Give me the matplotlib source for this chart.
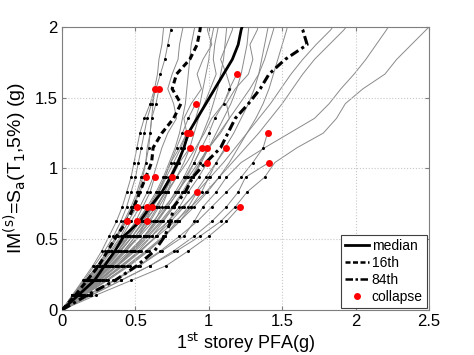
"""
IDA curves: 1st storey PFA against IM, with median / 16th / 84th and collapse points.
"""

import matplotlib
matplotlib.use("Agg")
import matplotlib.pyplot as plt
from matplotlib.lines import Line2D

plt.rcParams["font.family"] = ["Liberation Sans", "DejaVu Sans"]

# IM levels of the stripes (g)
IM_LEVELS = [0, 0.104, 0.208, 0.313, 0.417, 0.521, 0.625, 0.729, 0.833, 0.938,
             1.042, 1.146, 1.25, 1.354, 1.458, 1.563, 1.667, 1.771, 1.875, 1.979, 2.083]

# records ending in collapse: PFA (g) at successive IM levels, last point = collapse
COLLAPSE_RECORDS = [
    [0, 0.07, 0.16, 0.24, 0.31, 0.37, 0.44],
    [0, 0.09, 0.19, 0.28, 0.36, 0.45, 0.51],
    [0, 0.10, 0.22, 0.33, 0.42, 0.50, 0.58],
    [0, 0.08, 0.17, 0.25, 0.33, 0.40, 0.45, 0.51],
    [0, 0.09, 0.20, 0.29, 0.38, 0.45, 0.52, 0.58],
    [0, 0.11, 0.23, 0.34, 0.44, 0.52, 0.57, 0.61],
    [0, 0.23, 0.47, 0.71, 0.86, 1.00, 1.12, 1.21],
    [0, 0.14, 0.30, 0.45, 0.58, 0.70, 0.78, 0.86, 0.92],
    [0, 0.08, 0.17, 0.25, 0.32, 0.38, 0.43, 0.48, 0.53, 0.57],
    [0, 0.09, 0.19, 0.28, 0.36, 0.43, 0.50, 0.55, 0.60, 0.63],
    [0, 0.12, 0.25, 0.37, 0.47, 0.56, 0.63, 0.68, 0.72, 0.75],
    [0, 0.13, 0.28, 0.42, 0.54, 0.64, 0.72, 0.80, 0.86, 0.93, 0.99],
    [0, 0.20, 0.40, 0.60, 0.76, 0.90, 1.02, 1.12, 1.20, 1.25, 1.41],
    [0, 0.17, 0.35, 0.52, 0.67, 0.80, 0.92, 1.02, 1.12, 1.22, 1.30, 1.37, 1.40],
    [0, 0.10, 0.21, 0.32, 0.42, 0.50, 0.57, 0.64, 0.70, 0.75, 0.80, 0.87],
    [0, 0.12, 0.25, 0.37, 0.47, 0.56, 0.64, 0.72, 0.79, 0.84, 0.90, 0.95],
    [0, 0.14, 0.28, 0.41, 0.52, 0.61, 0.69, 0.76, 0.83, 0.89, 0.94, 0.99],
    [0, 0.15, 0.31, 0.46, 0.59, 0.70, 0.80, 0.88, 0.95, 1.00, 1.05, 1.12],
    [0, 0.09, 0.19, 0.29, 0.38, 0.46, 0.53, 0.60, 0.66, 0.71, 0.76, 0.81, 0.85],
    [0, 0.11, 0.23, 0.34, 0.43, 0.52, 0.59, 0.65, 0.70, 0.74, 0.78, 0.83, 0.87],
    [0, 0.10, 0.21, 0.31, 0.40, 0.48, 0.55, 0.61, 0.66, 0.70, 0.74, 0.78, 0.82, 0.86, 0.91],
    [0, 0.07, 0.14, 0.21, 0.27, 0.32, 0.37, 0.41, 0.44, 0.47, 0.49, 0.51, 0.53, 0.56, 0.60, 0.63],
    [0, 0.08, 0.16, 0.24, 0.31, 0.37, 0.42, 0.47, 0.51, 0.54, 0.57, 0.59, 0.60, 0.61, 0.64, 0.66],
    [0, 0.12, 0.25, 0.37, 0.48, 0.57, 0.65, 0.72, 0.79, 0.85, 0.90, 0.95, 1.00, 1.04, 1.10, 1.14, 1.19],
]

# records without collapse up to the top of the plot
SURVIVOR_RECORDS = [
    [0, 0.07, 0.15, 0.22, 0.29, 0.35, 0.40, 0.44, 0.47, 0.50, 0.52, 0.54, 0.56, 0.58, 0.61, 0.64, 0.67, 0.70, 0.72, 0.74, 0.76],
    [0, 0.08, 0.16, 0.24, 0.31, 0.37, 0.43, 0.48, 0.52, 0.55, 0.57, 0.58, 0.60, 0.61, 0.62, 0.63, 0.65, 0.66, 0.68, 0.69, 0.70],
    [0, 0.08, 0.17, 0.26, 0.34, 0.41, 0.47, 0.53, 0.58, 0.62, 0.65, 0.68, 0.72, 0.78, 0.76, 0.72, 0.75, 0.79, 0.80, 0.82, 0.84],
    [0, 0.09, 0.18, 0.27, 0.36, 0.44, 0.51, 0.58, 0.64, 0.69, 0.73, 0.77, 0.80, 0.82, 0.84, 0.85, 0.86, 0.87, 0.88, 0.90, 0.92],
    [0, 0.09, 0.19, 0.29, 0.38, 0.46, 0.53, 0.59, 0.65, 0.70, 0.74, 0.80, 0.85, 0.83, 0.88, 0.95, 0.92, 0.96, 1.02, 0.99, 1.01],
    [0, 0.10, 0.21, 0.31, 0.40, 0.48, 0.55, 0.62, 0.68, 0.73, 0.78, 0.83, 0.87, 0.91, 0.94, 0.96, 0.98, 1.00, 1.01, 1.03, 1.05],
    [0, 0.11, 0.22, 0.33, 0.43, 0.52, 0.60, 0.66, 0.72, 0.78, 0.83, 0.87, 0.90, 0.93, 0.97, 1.01, 1.05, 1.03, 1.04, 1.06, 1.08],
    [0, 0.12, 0.24, 0.35, 0.46, 0.56, 0.64, 0.71, 0.77, 0.83, 0.88, 0.92, 0.96, 1.00, 1.03, 1.06, 1.08, 1.10, 1.11, 1.12, 1.13],
    [0, 0.10, 0.20, 0.30, 0.39, 0.48, 0.56, 0.64, 0.71, 0.78, 0.85, 0.91, 0.97, 1.02, 1.10, 1.15, 1.12, 1.08, 1.12, 1.16, 1.17],
    [0, 0.13, 0.26, 0.38, 0.49, 0.59, 0.68, 0.76, 0.83, 0.89, 0.95, 1.00, 1.05, 1.10, 1.15, 1.19, 1.22, 1.24, 1.26, 1.27, 1.28],
    [0, 0.12, 0.25, 0.37, 0.48, 0.58, 0.67, 0.75, 0.82, 0.88, 0.94, 1.00, 1.08, 1.14, 1.12, 1.18, 1.27, 1.30, 1.28, 1.33, 1.35],
    [0, 0.14, 0.28, 0.41, 0.53, 0.64, 0.74, 0.83, 0.91, 0.98, 1.05, 1.11, 1.17, 1.22, 1.27, 1.31, 1.34, 1.36, 1.38, 1.40, 1.42],
    [0, 0.11, 0.22, 0.33, 0.43, 0.53, 0.62, 0.70, 0.78, 0.86, 0.93, 1.00, 1.07, 1.14, 1.21, 1.28, 1.34, 1.38, 1.41, 1.44, 1.46],
    [0, 0.15, 0.30, 0.44, 0.57, 0.69, 0.80, 0.90, 0.99, 1.07, 1.14, 1.20, 1.26, 1.32, 1.37, 1.41, 1.44, 1.47, 1.50, 1.53, 1.55],
    [0, 0.12, 0.25, 0.38, 0.50, 0.61, 0.72, 0.82, 0.92, 1.01, 1.10, 1.18, 1.26, 1.34, 1.42, 1.49, 1.56, 1.64, 1.73, 1.83, 1.90],
    [0, 0.13, 0.27, 0.40, 0.53, 0.65, 0.77, 0.88, 0.98, 1.07, 1.16, 1.25, 1.34, 1.42, 1.50, 1.57, 1.64, 1.72, 1.82, 1.92, 2.00],
    [0, 0.18, 0.36, 0.53, 0.68, 0.83, 0.90, 0.96, 1.05, 1.12, 1.22, 1.38, 1.55, 1.72, 1.82, 1.90, 1.99, 2.07, 2.14, 2.21, 2.27],
    [0, 0.20, 0.40, 0.60, 0.78, 0.94, 1.08, 1.18, 1.26, 1.38, 1.45, 1.60, 1.78, 1.87, 1.93, 2.05, 2.20, 2.28, 2.38, 2.48, 2.58],
]

MEDIAN_PFA = [0, 0.11, 0.22, 0.29, 0.36, 0.42, 0.53, 0.60, 0.68, 0.74, 0.79,
              0.83, 0.86, 0.92, 0.98, 1.04, 1.10, 1.16, 1.20, 1.22, 1.25]
P16_PFA = [0, 0.09, 0.17, 0.25, 0.31, 0.37, 0.44, 0.49, 0.53, 0.57, 0.61,
           0.62, 0.68, 0.76, 0.81, 0.75, 0.78, 0.87, 0.92, 0.94, 0.95]
P84_PFA = [0, 0.17, 0.36, 0.51, 0.63, 0.70, 0.74, 0.76, 0.84, 0.89, 0.98,
           1.08, 1.13, 1.18, 1.27, 1.35, 1.41, 1.52, 1.67, 1.64, 1.58]

GRAY = "#7f7f7f"
LINE_GRAY = "#8a8a8a"

fig = plt.figure(figsize=(4.74, 3.55), dpi=100)
ax = fig.add_axes([0.131, 0.127, 0.774, 0.797])

for rec in SURVIVOR_RECORDS:
    im = IM_LEVELS[:len(rec)]
    ax.plot(rec, im, color=LINE_GRAY, linewidth=0.7, zorder=1)
for i, rec in enumerate(SURVIVOR_RECORDS):
    n = len(rec) if i == 0 else 10
    ax.plot(rec[1:n], IM_LEVELS[1:n], "o", color="black", markersize=2.2,
            markeredgewidth=0, zorder=2)

for rec in COLLAPSE_RECORDS:
    im = IM_LEVELS[:len(rec)]
    ax.plot(rec, im, color=LINE_GRAY, linewidth=0.7, zorder=1)
    ax.plot(rec[1:-1], im[1:-1], "o", color="black", markersize=2.2,
            markeredgewidth=0, zorder=2)

ax.plot(MEDIAN_PFA, IM_LEVELS, color="black", linewidth=2.0, zorder=4)
ax.plot(P16_PFA, IM_LEVELS, color="black", linewidth=2.2,
        linestyle=(0, (2.0, 1.2)), zorder=4)
ax.plot(P84_PFA, IM_LEVELS, color="black", linewidth=2.2,
        linestyle=(0, (3.0, 1.2, 1.0, 1.2)), zorder=4)

ax.plot([r[-1] for r in COLLAPSE_RECORDS],
        [IM_LEVELS[len(r) - 1] for r in COLLAPSE_RECORDS],
        "o", color="#ff0000", markersize=5, markeredgewidth=0, zorder=5)

ax.set_xlim(0, 2.5)
ax.set_ylim(0, 2)
ax.set_xticks([0, 0.5, 1, 1.5, 2, 2.5])
ax.set_xticklabels(["0", "0.5", "1", "1.5", "2", "2.5"])
ax.set_yticks([0, 0.5, 1, 1.5, 2])
ax.set_yticklabels(["0", "0.5", "1", "1.5", "2"])
ax.tick_params(direction="in", length=3, labelsize=12, top=True, right=True,
               color=GRAY, pad=3)
ax.grid(True, linestyle=":", color="#c8c8c8", linewidth=0.8)
for sp in ax.spines.values():
    sp.set_color(GRAY)

ax.set_xlabel("1$^{\\rm st}$ storey PFA(g)", fontsize=13, labelpad=1)
ax.set_ylabel("IM$^{\\rm (s)}$=S$_{\\rm a}$(T$_{\\rm 1}$,5%) (g)", fontsize=14, labelpad=4)

handles = [
    Line2D([], [], color="black", linewidth=2.0),
    Line2D([], [], color="black", linewidth=1.8, linestyle=(0, (2.0, 1.0))),
    Line2D([], [], color="black", linewidth=1.8, linestyle=(0, (3.0, 1.0, 1.0, 1.0))),
    Line2D([], [], color="#ff0000", marker="o", linestyle="none", markersize=5,
           markeredgewidth=0),
]
leg = ax.legend(handles, ["median", "16th", "84th", "collapse"], loc="lower right",
                fontsize=10, handlelength=1.7, handletextpad=0.2, labelspacing=0.2,
                borderpad=0.3, borderaxespad=0.15, fancybox=False, framealpha=1)
leg.get_frame().set_edgecolor("#404040")
leg.get_frame().set_linewidth(0.8)

fig.savefig("out.png", dpi=100)
